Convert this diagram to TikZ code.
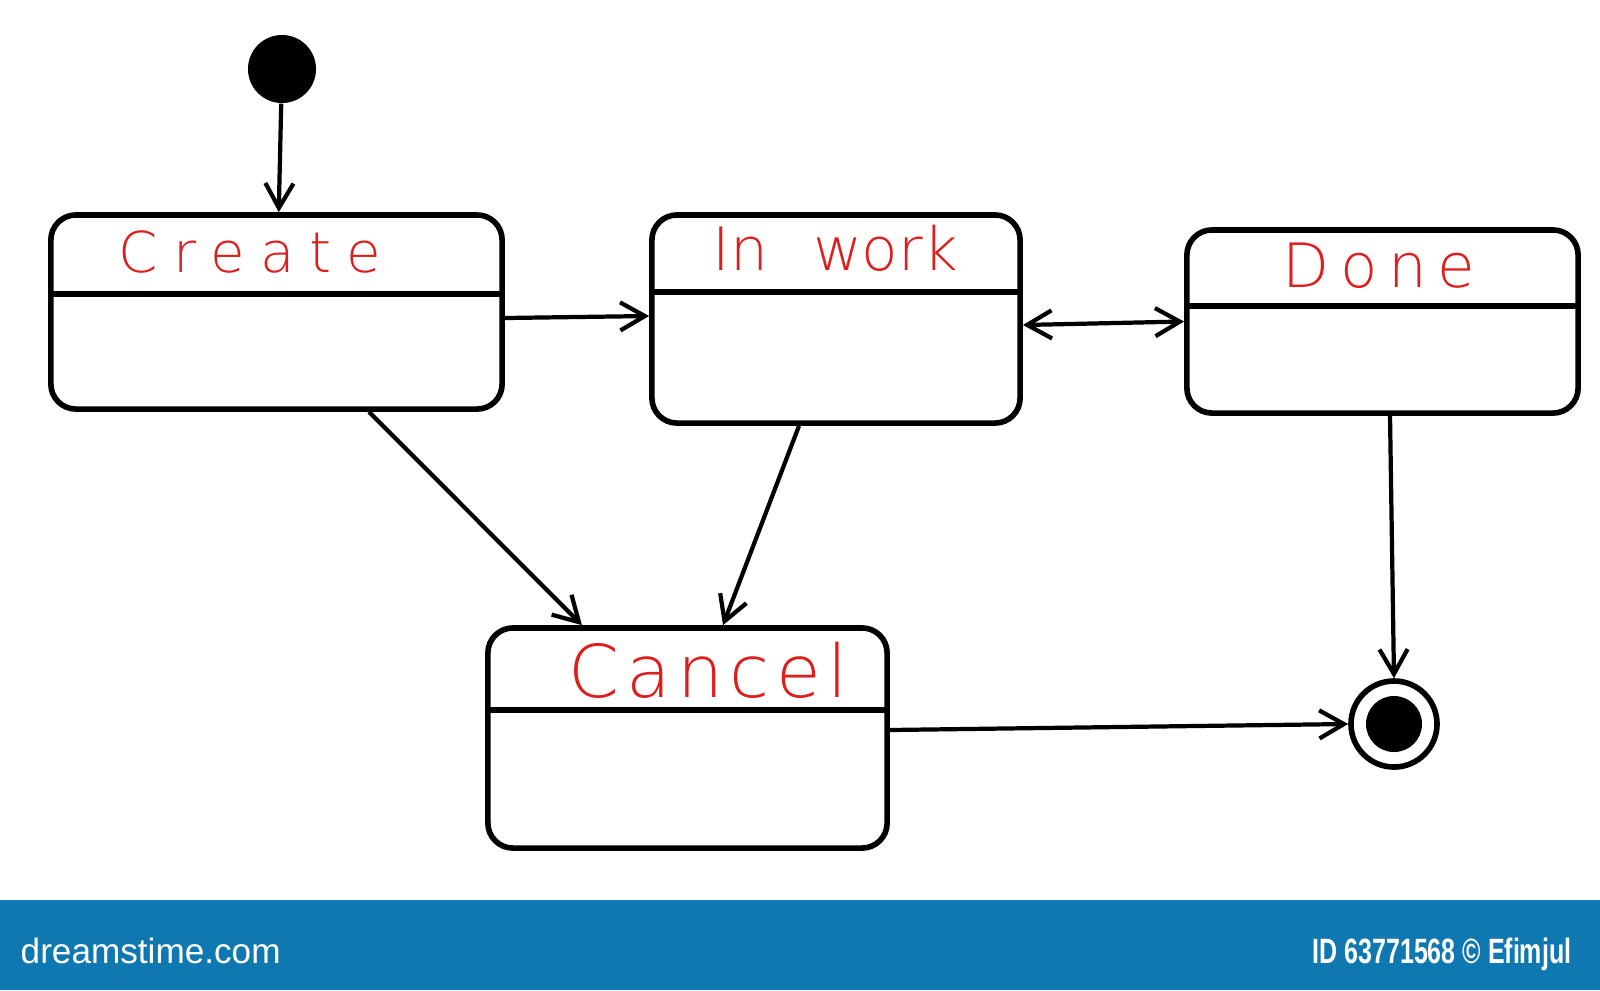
\documentclass[tikz,border=0pt]{standalone}
\usepackage{fontspec}
\setmainfont{Liberation Sans}
\newfontfamily\handfont{DejaVu Sans ExtraLight}
\usetikzlibrary{arrows.meta}
\definecolor{titlered}{RGB}{222,30,28}
\definecolor{barblue}{RGB}{16,120,176}
\newcommand{\statelabel}[3]{{\handfont\fontsize{#1}{#1}\selectfont\addfontfeatures{LetterSpace=#2}#3}}

\begin{document}
\begin{tikzpicture}[x=0.01cm,y=-0.01cm,
    statebox/.style={draw,line width=1.6pt,rounded corners=0.25cm,inner sep=0},
    divider/.style={line width=1.6pt},
    statename/.style={text=titlered,anchor=base west,inner sep=0},
    trans/.style={line width=1.2pt,-{Straight Barb[length=7pt,width=8pt]}},
    dot/.style={circle,fill,inner sep=0}]
    \useasboundingbox (0,0) rectangle (1600,990);
    \node[dot,minimum size=0.68cm] (init) at (282,69) {};
    \node[statebox,minimum width=4.51cm,minimum height=1.94cm] (create) at (276.5,312) {};
    \node[statebox,minimum width=3.68cm,minimum height=2.08cm] (inwork) at (836,319) {};
    \node[statebox,minimum width=3.91cm,minimum height=1.83cm] (done) at (1382.5,321.5) {};
    \node[statebox,minimum width=3.99cm,minimum height=2.20cm] (cancel) at (687.5,738) {};
    \node[circle,draw,line width=1.6pt,minimum size=0.86cm,inner sep=0] (final) at (1394,724) {};
    \node[dot,minimum size=0.56cm] (final dot) at (final.center) {};
    \draw[divider] ([yshift=-0.82cm]create.north west) -- ([yshift=-0.82cm]create.north east);
    \draw[divider] ([yshift=-0.80cm]inwork.north west) -- ([yshift=-0.80cm]inwork.north east);
    \draw[divider] ([yshift=-0.79cm]done.north west) -- ([yshift=-0.79cm]done.north east);
    \draw[divider] ([yshift=-0.85cm]cancel.north west) -- ([yshift=-0.85cm]cancel.north east);
    \node[statename] (create name) at (118,272) {\statelabel{16}{27}{Create}};
    \node[statename] (inwork name) at (712,270) {\statelabel{17}{0}{In\hspace{0.75em}work}};
    \node[statename] (done name) at (1282,287) {\statelabel{17.4}{17}{Done}};
    \node[statename] (cancel name) at (568,697) {\statelabel{20.7}{9}{Cancel}};
    \draw[trans] (init) -- (create);
    \draw[trans] ([yshift=-0.06cm]create.east) -- ([yshift=0.03cm]inwork.west);
    \draw[trans,{Straight Barb[length=7pt,width=8pt]}-{Straight Barb[length=7pt,width=8pt]}] ([yshift=-0.06cm]inwork.east) -- (done.west);
    \draw[trans] ([xshift=0.925cm]create.south) -- ([xshift=-1.055cm]cancel.north);
    \draw[trans] ([xshift=-0.37cm]inwork.south) -- ([xshift=0.355cm]cancel.north);
    \draw[trans] ([xshift=0.075cm]done.south) -- (final.north);
    \draw[trans] ([yshift=0.08cm]cancel.east) -- (final.west);
    \fill[barblue] (0,900) rectangle (1600,990);
    \node[anchor=base west,text=white,inner sep=0,font=\fontsize{10}{10}\selectfont] (site) at (20,963) {dreamstime.com};
    \node[anchor=base east,text=white,inner sep=0,font=\bfseries\fontsize{10}{10}\selectfont] (imageid) at (1572,963) {\scalebox{0.71}[1]{ID 63771568 © Efimjul}};
\end{tikzpicture}
\end{document}
